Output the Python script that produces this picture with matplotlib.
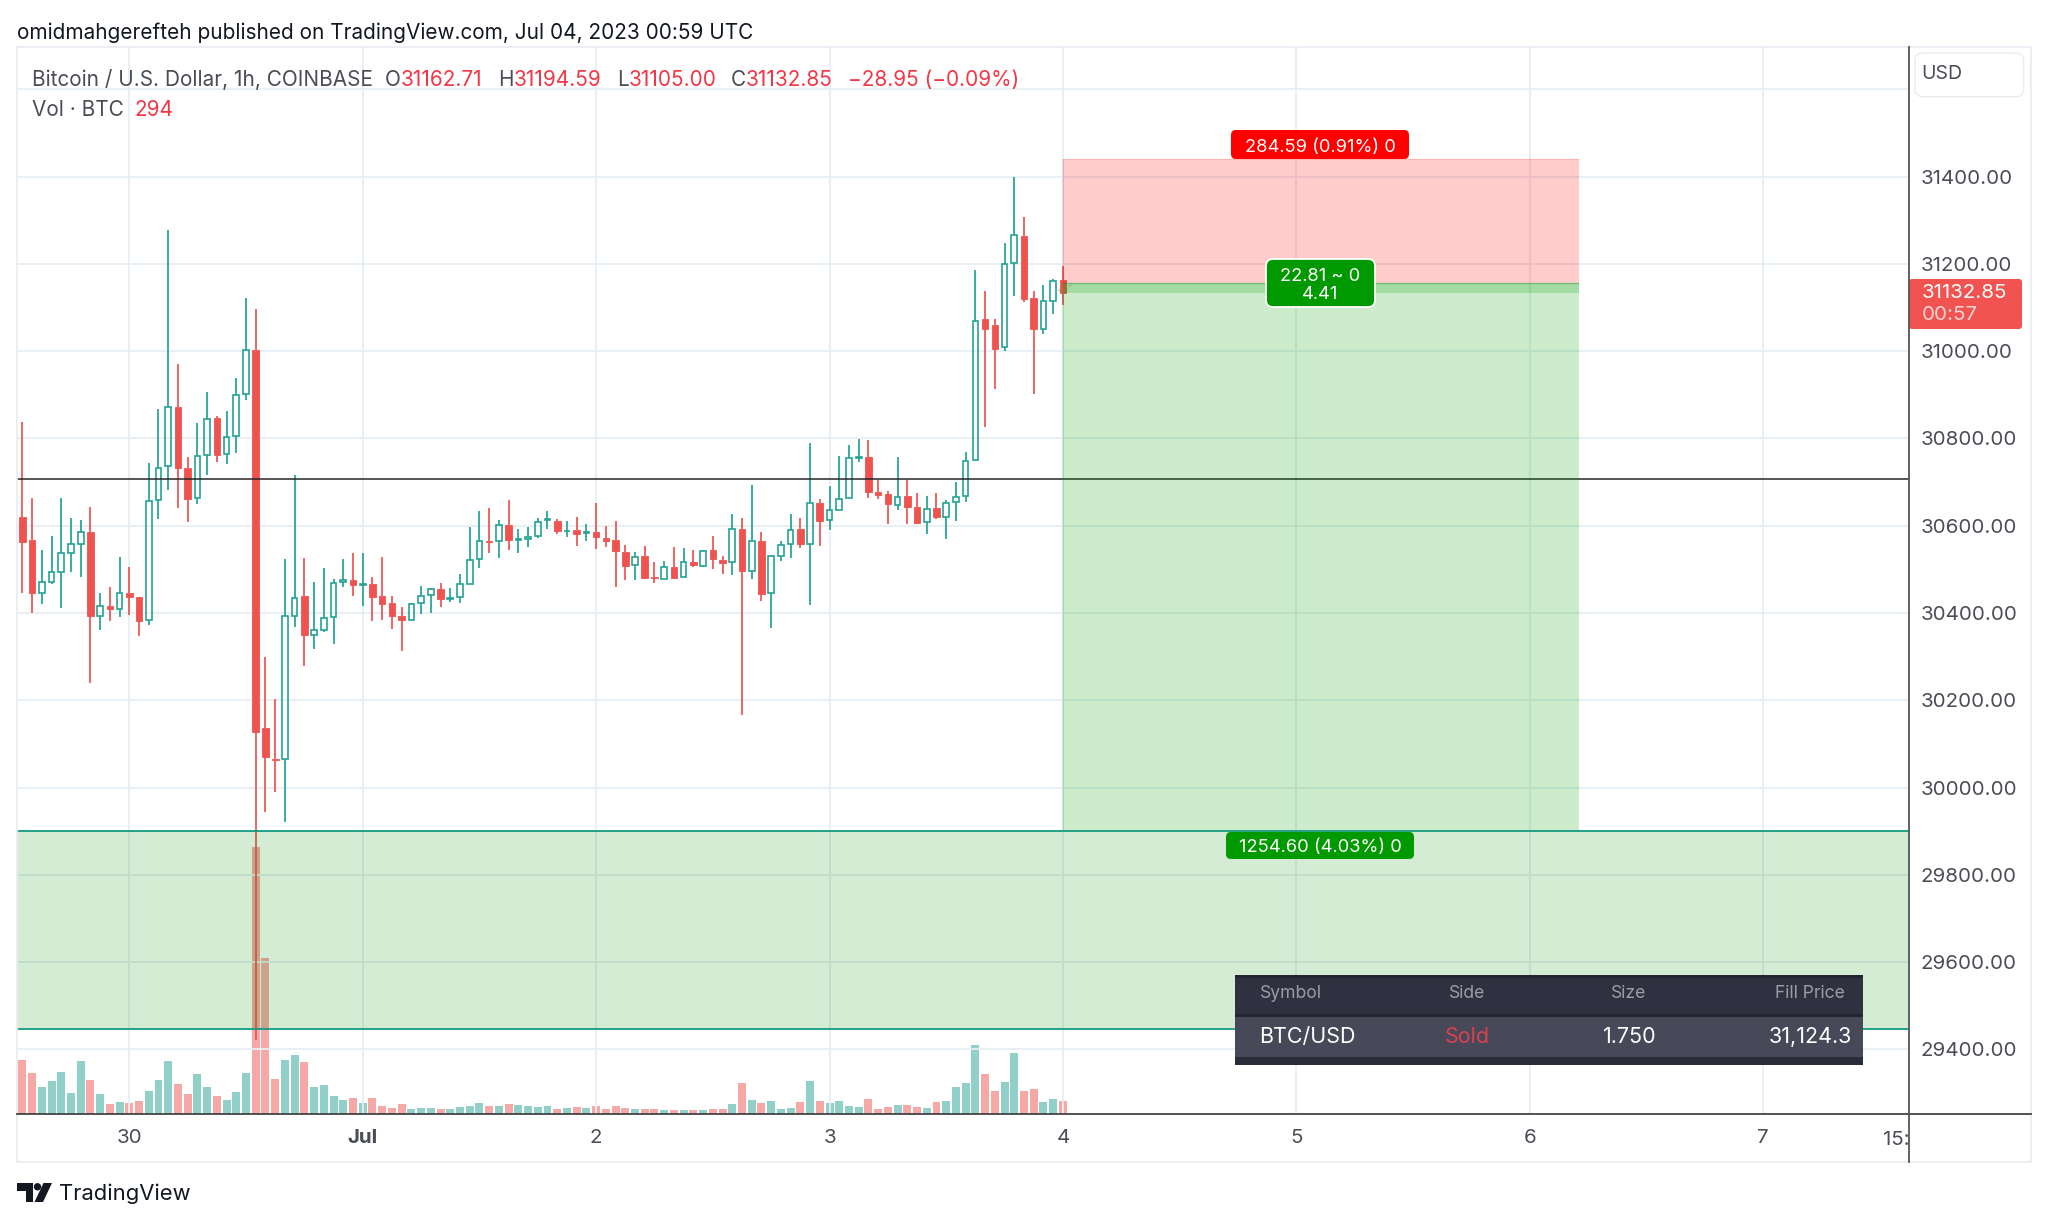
import numpy as np
import matplotlib
matplotlib.use('Agg')
import matplotlib.pyplot as plt
from matplotlib.patches import FancyBboxPatch, Rectangle, Circle, Polygon
from matplotlib.transforms import Bbox

plt.rcParams['font.family'] = ['Inter', 'DejaVu Sans']

# hourly bars, hour 0 = Jun 30 00:00 UTC
hours = np.arange(-11, 97)

opens = np.array([
    30620, 30568, 30447, 30471, 30494, 30537, 30558, 30586, 30394, 30415, 30410, 30446,
    30436, 30384, 30658, 30738, 30871, 30732, 30663, 30761, 30846, 30764, 30805, 30903,
    31003, 30137, 30065, 30065, 30394, 30438, 30350, 30362, 30390, 30470, 30476, 30464,
    30466, 30438, 30422, 30394, 30385, 30422, 30442, 30456, 30431, 30436, 30466, 30524,
    30566, 30565, 30602, 30567, 30569, 30576, 30612, 30610, 30587, 30590, 30583, 30586,
    30573, 30567, 30540, 30510, 30531, 30483, 30479, 30505, 30482, 30518, 30507, 30544,
    30522, 30516, 30592, 30496, 30566, 30446, 30530, 30558, 30592, 30559, 30653, 30614,
    30637, 30663, 30756, 30757, 30678, 30672, 30648, 30667, 30643, 30608, 30640, 30621,
    30655, 30669, 30750, 31073, 31059, 31009, 31203, 31265, 31121, 31051, 31116, 31162.71])
highs = np.array([
    30837, 30663, 30544, 30576, 30663, 30618, 30612, 30642, 30447, 30460, 30528, 30506,
    30436, 30743, 30867, 31278, 30971, 30757, 30835, 30907, 30851, 30864, 30938, 31121,
    31096, 30300, 30204, 30524, 30716, 30526, 30470, 30504, 30478, 30523, 30538, 30538,
    30482, 30528, 30440, 30413, 30424, 30462, 30458, 30468, 30458, 30490, 30596, 30633,
    30641, 30613, 30659, 30592, 30596, 30618, 30634, 30616, 30611, 30621, 30605, 30651,
    30599, 30611, 30556, 30540, 30554, 30517, 30520, 30551, 30548, 30544, 30544, 30576,
    30530, 30628, 30618, 30693, 30586, 30534, 30566, 30626, 30617, 30790, 30662, 30691,
    30760, 30784, 30799, 30796, 30705, 30680, 30758, 30705, 30674, 30668, 30676, 30658,
    30700, 30768, 31186, 31139, 31073, 31249, 31398, 31307, 31139, 31151, 31165, 31194.59])
lows = np.array([
    30445, 30401, 30421, 30467, 30411, 30495, 30483, 30240, 30361, 30382, 30391, 30395,
    30348, 30373, 30615, 30683, 30641, 30609, 30650, 30717, 30745, 30741, 30767, 30888,
    29421, 29945, 29990, 29920, 30369, 30279, 30317, 30357, 30330, 30459, 30439, 30415,
    30381, 30383, 30364, 30313, 30383, 30397, 30401, 30414, 30425, 30423, 30466, 30503,
    30538, 30527, 30545, 30538, 30551, 30573, 30593, 30581, 30575, 30553, 30566, 30547,
    30551, 30460, 30475, 30475, 30479, 30469, 30477, 30481, 30482, 30505, 30505, 30501,
    30489, 30487, 30166, 30477, 30428, 30366, 30519, 30525, 30549, 30419, 30553, 30591,
    30636, 30663, 30747, 30663, 30661, 30605, 30637, 30603, 30605, 30581, 30615, 30569,
    30611, 30655, 30750, 30827, 30914, 31000, 31126, 31112, 30903, 31039, 31086, 31105.00])
closes = np.array([
    30563, 30447, 30471, 30493, 30537, 30557, 30585, 30393, 30417, 30409, 30445, 30437,
    30382, 30657, 30733, 30872, 30732, 30662, 30760, 30845, 30763, 30803, 30900, 31002,
    30128, 30071, 30064, 30393, 30435, 30349, 30361, 30389, 30469, 30476, 30465, 30466,
    30437, 30421, 30393, 30383, 30421, 30440, 30455, 30431, 30435, 30467, 30521, 30566,
    30563, 30601, 30567, 30569, 30575, 30609, 30615, 30588, 30589, 30581, 30586, 30575,
    30566, 30541, 30507, 30529, 30480, 30480, 30505, 30481, 30517, 30509, 30543, 30524,
    30515, 30592, 30497, 30566, 30443, 30530, 30556, 30591, 30559, 30653, 30611, 30637,
    30661, 30755, 30757, 30678, 30671, 30650, 30666, 30643, 30607, 30639, 30619, 30651,
    30666, 30749, 31068, 31051, 31006, 31200, 31267, 31120, 31050, 31116, 31160, 31132.85])
volumes = np.array([
    1262, 944, 619, 759, 983, 495, 1231, 797, 472, 232, 271, 255,
    294, 542, 797, 1231, 704, 457, 929, 619, 418, 317, 519, 960,
    6200, 3622, 820, 1262, 1370, 1207, 619, 681, 418, 333, 372, 255,
    372, 194, 147, 232, 108, 147, 147, 124, 124, 170, 194, 255,
    194, 194, 232, 217, 194, 170, 194, 124, 147, 170, 147, 194,
    124, 194, 147, 124, 124, 108, 85, 93, 93, 93, 93, 108,
    124, 232, 720, 325, 255, 294, 108, 147, 271, 774, 294, 255,
    310, 194, 170, 356, 108, 170, 209, 209, 170, 147, 271, 310,
    635, 720, 1610, 929, 534, 743, 1424, 534, 581, 286, 348, 294])

price_ticks = [29400, 29600, 29800, 30000, 30200, 30400, 30600, 30800, 31000, 31200, 31400, 31600]
day_ticks = [0, 24, 48, 72, 96, 120, 144, 168]
day_labels = ['30', 'Jul', '2', '3', '4', '5', '6', '7']

# position tool + horizontal levels
pos_start, pos_end = 96, 149.07
stop_price, entry_price, fill_price, target_price = 31441, 31156, 31133, 29901
band_top, band_bottom = 29901, 29447
black_level = 30707

RED = '#EF5350'
GREEN = '#22A394'
GRID = '#E6EEF5'
TXT = '#4A4D55'
W, H = 2048, 1224
PX = 1 / 1.389  # pt per pixel at dpi 100
AXIS_FS = 20.5 * PX

fig = plt.figure(figsize=(W / 100, H / 100), dpi=100, facecolor='white')
rect = [17 / W, 1 - 1114 / H, (1908.5 - 17) / W, (1114 - 47) / H]

# volume underneath
vol_ax = fig.add_axes(rect, zorder=1)
vol_ax.set_xlim(-11.55, 182.95)
vol_ax.set_ylim(0, 1067 * 23.2)
vol_ax.axis('off')
is_up = closes >= opens
vol_ax.bar(hours, volumes, width=0.82, color=[GREEN if u else RED for u in is_up], alpha=0.5, linewidth=0)

# price axes
ax = fig.add_axes(rect, zorder=2)
ax.patch.set_visible(False)
ax.set_xlim(-11.55, 182.95)
ax.set_ylim(29252, 31697)
for s in ax.spines.values():
    s.set_visible(False)
ax.yaxis.tick_right()
ax.set_yticks(price_ticks)
ax.set_yticklabels([f'{p:.2f}' if p < 31600 else '' for p in price_ticks])
ax.set_xticks(day_ticks)
ax.set_xticklabels(day_labels)
ax.tick_params(axis='y', length=0, pad=9, labelsize=AXIS_FS, labelcolor=TXT)
ax.tick_params(axis='x', length=0, pad=11, labelsize=AXIS_FS, labelcolor=TXT)
ax.get_xticklabels()[1].set_fontweight('bold')
ax.grid(True, color=GRID, linewidth=1.3)
ax.set_axisbelow(True)

body_top = np.maximum(opens, closes)
body_bot = np.minimum(opens, closes)
colors = np.array([GREEN if u else RED for u in is_up])
ax.vlines(hours, body_top, highs, colors=colors, linewidth=1.25, zorder=3)
ax.vlines(hours, lows, body_bot, colors=colors, linewidth=1.25, zorder=3)
ax.bar(hours[is_up], (body_top - body_bot)[is_up], bottom=body_bot[is_up], width=0.58,
       facecolor='none', edgecolor=GREEN, linewidth=1.2, zorder=3)
ax.bar(hours[~is_up], (body_top - body_bot)[~is_up], bottom=body_bot[~is_up], width=0.68,
       facecolor=RED, edgecolor=RED, linewidth=0.6, zorder=3)

# levels and position boxes on top of the candles
ax.axhline(black_level, color='#222222', linewidth=1.2, alpha=0.9, zorder=4)
ax.axhspan(band_bottom, band_top, color='#008D00', alpha=0.17, linewidth=0, zorder=4)
ax.axhline(band_top, color='#149B80', linewidth=1.3, zorder=5)
ax.axhline(band_bottom, color='#149B80', linewidth=1.3, zorder=5)
ax.fill_between([pos_start, pos_end], entry_price, stop_price, color='#FF0000', alpha=0.2, linewidth=0, zorder=4)
ax.fill_between([pos_start, pos_end], target_price, entry_price, color='#00A000', alpha=0.2, linewidth=0, zorder=4)
ax.fill_between([pos_start, pos_end], fill_price, entry_price, color='#00A000', alpha=0.2, linewidth=0, zorder=4)
ax.vlines(pos_start, target_price, entry_price, color='#00A000', alpha=0.12, linewidth=1.2, zorder=4)
ax.vlines(pos_start, entry_price, stop_price, color='#C00000', alpha=0.1, linewidth=1.2, zorder=4)
ax.hlines(stop_price, pos_start, pos_end, color='#FF0000', alpha=0.12, linewidth=1, zorder=4)
ax.hlines(entry_price, pos_start, pos_end, color='#208020', alpha=0.35, linewidth=1, zorder=4)

# chrome, in pixel coordinates
ov = fig.add_axes([0, 0, 1, 1], zorder=3)
ov.set_xlim(0, W)
ov.set_ylim(H, 0)
ov.axis('off')

BORDER = '#E9EBF2'
ov.plot([17, 2030.7, 2030.7, 17, 17], [47, 47, 1162, 1162, 47], color=BORDER, linewidth=1.2)
ov.plot([17, 2030.7], [1114, 1114], color='#444444', linewidth=1.3)
ov.plot([1908.7, 1908.7], [47, 1162], color='#555555', linewidth=1.3)
ov.plot([1055, 1062, 1072], [286, 293, 284], color='#808080', linewidth=1, linestyle=(0, (2, 1.5)), alpha=0.5)

ov.text(17, 33, 'omidmahgerefteh published on TradingView.com, Jul 04, 2023 00:59 UTC',
        fontsize=20.8 * PX, color='#131722', va='center')

# legend row
LEG_RED = '#F23645'
leg = 20.8 * PX
ov.text(32, 80, 'Bitcoin / U.S. Dollar, 1h, COINBASE', fontsize=leg, color=TXT, va='center')
for x, s, c in [(385, 'O', TXT), (401, '31162.71', LEG_RED), (498, 'H', TXT), (514, '31194.59', LEG_RED),
                (617, 'L', TXT), (629, '31105.00', LEG_RED), (731, 'C', TXT), (746, '31132.85', LEG_RED),
                (848, '\u221228.95 (\u22120.09%)', LEG_RED)]:
    ov.text(x, 80, s, fontsize=leg, color=c, va='center')
ov.text(32, 109.5, 'Vol \u00b7 BTC', fontsize=leg, color=TXT, va='center')
ov.text(134, 109.5, '294', fontsize=leg, color=LEG_RED, va='center')


def box(x0, y0, x1, y1, fc, ec='none', lw=0, r=5):
    ov.add_patch(FancyBboxPatch((x0, y0), x1 - x0, y1 - y0, boxstyle=f'round,pad=0,rounding_size={r}',
                                facecolor=fc, edgecolor=ec, linewidth=lw))


# position labels
box(1231, 130, 1409, 159, '#FF0000')
ov.text(1320, 147, '284.59 (0.91%) 0', color='white', fontsize=18.3 * PX, ha='center', va='center')
box(1266, 259, 1375, 307, '#009900', ec='white', lw=1.3, r=7)
ov.text(1320.5, 276.5, '22.81 ~ 0', color='white', fontsize=18.3 * PX, ha='center', va='center')
ov.text(1320.5, 294.5, '4.41', color='white', fontsize=18.3 * PX, ha='center', va='center')
box(1226, 832, 1414, 859, '#009900')
ov.text(1320, 847, '1254.60 (4.03%) 0', color='white', fontsize=18.3 * PX, ha='center', va='center')

# last price tag and currency button
box(1909, 279, 2022, 329, '#F05350', r=3)
ov.text(1922, 293, '31132.85', color='white', fontsize=AXIS_FS, va='center')
ov.text(1922, 315, '00:57', color='#FBD5D5', fontsize=AXIS_FS, va='center')
box(1915, 53, 2023.7, 96.7, 'white', ec=BORDER, lw=1, r=8)
ov.text(1921, 74, 'USD', color=TXT, fontsize=19.5 * PX, va='center')

# clipped time label at the scale edge
t = ov.text(1882.5, 1140, '15:00', color=TXT, fontsize=AXIS_FS, va='center')
t.set_clip_on(True)
t.set_clip_box(Bbox([[0, 0], [1908, H]]))

# order table
ov.add_patch(Rectangle((1235, 975.3), 627.5, 89.4, facecolor='#2F3040', edgecolor='none'))
ov.add_patch(Rectangle((1235, 975.3), 627.5, 3, facecolor='#23242F', edgecolor='none'))
ov.add_patch(Rectangle((1235, 1014), 627.5, 3, facecolor='#23242F', edgecolor='none'))
ov.add_patch(Rectangle((1235, 1017), 627.5, 40, facecolor='#474858', edgecolor='none'))
ov.add_patch(Rectangle((1235, 1057), 627.5, 7.7, facecolor='#2B2C3A', edgecolor='none'))
head = 17.5 * PX
for x, s, ha in [(1259.5, 'Symbol', 'left'), (1466.6, 'Side', 'center'), (1629, 'Size', 'center'),
                 (1844.7, 'Fill Price', 'right')]:
    ov.text(x, 993, s, color='#9C9DA6', fontsize=head, ha=ha, va='center')
row = 21.5 * PX
ov.text(1259.5, 1037, 'BTC/USD', color='white', fontsize=row, va='center')
ov.text(1467, 1037, 'Sold', color='#D9414D', fontsize=row, ha='center', va='center')
ov.text(1630, 1037, '1.750', color='white', fontsize=row, ha='center', va='center')
ov.text(1851.7, 1037, '31,124.3', color='white', fontsize=row, ha='right', va='center')

# logo
LOGO = '#131722'
ov.add_patch(Polygon([(17, 1183), (33, 1183), (33, 1202), (25.5, 1202), (25.5, 1190.5), (17, 1190.5)],
                     closed=True, facecolor=LOGO, edgecolor='none'))
ov.add_patch(Circle((37.5, 1186.8), 3.7, facecolor=LOGO, edgecolor='none'))
ov.add_patch(Polygon([(43.5, 1183), (52, 1183), (43, 1202), (34.5, 1202)], closed=True, facecolor=LOGO, edgecolor='none'))
ov.text(59, 1194, 'TradingView', color=LOGO, fontsize=22 * PX, va='center')

fig.savefig('out.png', dpi=100)
